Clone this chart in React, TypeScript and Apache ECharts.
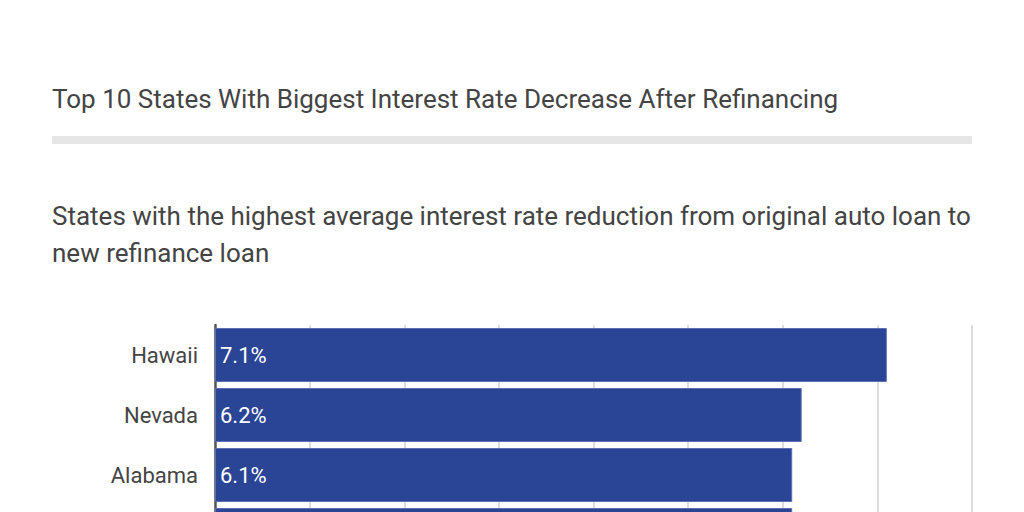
import React, { useEffect, useRef } from "react";
import * as echarts from "echarts";

const TITLE = "Top 10 States With Biggest Interest Rate Decrease After Refinancing";
const SUBTITLE_LINES = [
  "States with the highest average interest rate reduction from original auto loan to",
  "new refinance loan",
];
const states = [
  "Hawaii",
  "Nevada",
  "Alabama",
  "Mississippi",
  "Louisiana",
  "Arkansas",
  "Oklahoma",
  "South Carolina",
  "Georgia",
  "Texas",
];
const rateDecrease = [7.1, 6.2, 6.1, 6.1, 5.9, 5.8, 5.7, 5.6, 5.5, 5.4];
const xTicks = { min: 0, max: 8, interval: 1 };

export default function App() {
  const ref = useRef<HTMLDivElement>(null);
  useEffect(() => {
    document.body.style.margin = "0";
    if (!ref.current) return;
    const chart = echarts.init(ref.current, null, { renderer: "svg" });
    const font = "Roboto";
    chart.setOption({
      animation: false,
      backgroundColor: "#ffffff",
      textStyle: { fontFamily: font },
      graphic: [
        {
          type: "text",
          x: 52,
          y: 99,
          style: {
            text: TITLE,
            fontSize: 26,
            fontFamily: font,
            fill: "#444444",
            verticalAlign: "middle",
          },
        },
        {
          type: "rect",
          shape: { x: 52, y: 136, width: 920, height: 8 },
          style: { fill: "#e6e6e6" },
        },
        {
          type: "text",
          x: 52,
          y: 197,
          style: {
            text: SUBTITLE_LINES.join("\n"),
            fontSize: 26,
            lineHeight: 37,
            fontFamily: font,
            fill: "#444444",
            verticalAlign: "top",
          },
        },
      ],
      grid: { left: 215, right: 52, top: 325, bottom: 75, containLabel: false },
      xAxis: {
        type: "value",
        min: xTicks.min,
        max: xTicks.max,
        interval: xTicks.interval,
        axisLine: { show: false },
        axisTick: { show: false },
        axisLabel: { show: false },
        splitLine: { show: true, lineStyle: { color: "#dddddd", width: 2 } },
      },
      yAxis: {
        type: "category",
        data: states,
        inverse: true,
        axisLine: { show: true, lineStyle: { color: "#555555", width: 2.5 } },
        axisTick: { show: false },
        axisLabel: {
          margin: 17,
          fontSize: 22,
          fontFamily: font,
          fontWeight: "normal",
          color: "#444444",
        },
      },
      series: [
        {
          type: "bar",
          data: rateDecrease,
          barCategoryGap: "10%",
          itemStyle: { color: "#2a4496", borderColor: "#5b6fb3", borderWidth: 1 },
          label: {
            show: true,
            position: "insideLeft",
            distance: 5,
            formatter: (p: any) => p.value.toFixed(1) + "%",
            color: "#ffffff",
            fontSize: 22,
            fontFamily: font,
          },
        },
      ],
    });
    return () => chart.dispose();
  }, []);
  return <div ref={ref} style={{ width: 1024, height: 1000 }} />;
}
